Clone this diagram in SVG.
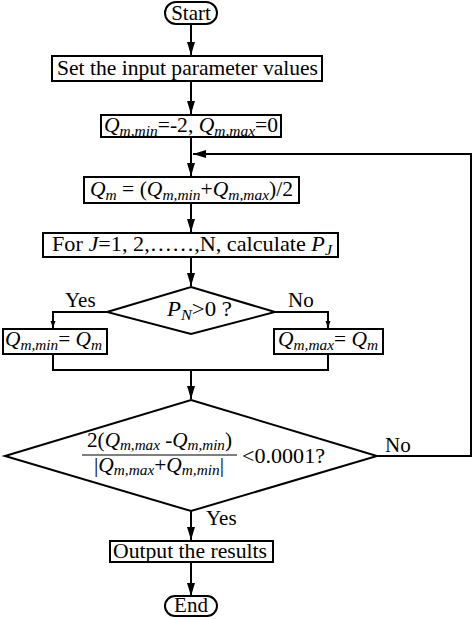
<svg xmlns="http://www.w3.org/2000/svg" width="474" height="619" viewBox="0 0 474 619">
<style>
.b{fill:#fff;stroke:#000;stroke-width:2}
.l{fill:none;stroke:#000;stroke-width:2}
text{font-family:"Liberation Serif","Times New Roman",serif;font-size:21px;fill:#000}
.i{font-style:italic}
.s{font-size:15px;font-style:italic}
.c{text-anchor:middle}
</style>
<defs>
<marker id="a" markerUnits="userSpaceOnUse" markerWidth="14" markerHeight="10" refX="13" refY="4" orient="auto">
<path d="M0,0 L13,4 L0,8 z" fill="#000"/>
</marker>
<marker id="sa" markerUnits="userSpaceOnUse" markerWidth="8" markerHeight="6" refX="7" refY="2.5" orient="auto">
<path d="M0,0 L7,2.5 L0,5 z" fill="#000"/>
</marker>
</defs>
<g id="connectors">
<line class="l" x1="191" y1="24" x2="191" y2="55" marker-end="url(#a)"/>
<line class="l" x1="191" y1="81" x2="191" y2="114" marker-end="url(#a)"/>
<line class="l" x1="191" y1="137" x2="191" y2="176" marker-end="url(#a)"/>
<polyline class="l" points="377,456 471,456 471,154 193,154" marker-end="url(#a)"/>
<line class="l" x1="191" y1="203" x2="191" y2="232" marker-end="url(#a)"/>
<line class="l" x1="191" y1="257" x2="191" y2="286" marker-end="url(#a)"/>
<polyline class="l" points="107,312 53,312 53,328" marker-end="url(#sa)"/>
<polyline class="l" points="275,312 328,312 328,328" marker-end="url(#sa)"/>
<polyline class="l" points="53,354 53,370 328,370 328,354"/>
<line class="l" x1="191" y1="370" x2="191" y2="399" marker-end="url(#a)"/>
<line class="l" x1="191" y1="511" x2="191" y2="540" marker-end="url(#a)"/>
<line class="l" x1="191" y1="562" x2="191" y2="596" marker-end="url(#a)"/>
<text x="65" y="307">Yes</text>
<text x="288" y="307">No</text>
<text x="385" y="452">No</text>
<text x="206" y="525">Yes</text>
</g>
<g id="start">
<rect class="b" x="165" y="2" width="52" height="22" rx="11"/>
<text class="c" x="191" y="20">Start</text>
</g>
<g id="set-input">
<rect class="b" x="52" y="56" width="270" height="25"/>
<text x="57" y="75" textLength="261" lengthAdjust="spacingAndGlyphs">Set the input parameter values</text>
</g>
<g id="init">
<rect class="b" x="101" y="115" width="180" height="22"/>
<text x="104" y="132" textLength="174" lengthAdjust="spacingAndGlyphs"><tspan class="i">Q</tspan><tspan class="s" dy="4">m,min</tspan><tspan dy="-4">=-2, </tspan><tspan class="i">Q</tspan><tspan class="s" dy="4">m,max</tspan><tspan dy="-4">=0</tspan></text>
</g>
<g id="midpoint">
<rect class="b" x="84" y="177" width="215" height="26"/>
<text x="90" y="196" textLength="203" lengthAdjust="spacingAndGlyphs"><tspan class="i">Q</tspan><tspan class="s" dy="4">m</tspan><tspan dy="-4"> = (</tspan><tspan class="i">Q</tspan><tspan class="s" dy="4">m,min</tspan><tspan dy="-4">+</tspan><tspan class="i">Q</tspan><tspan class="s" dy="4">m,max</tspan><tspan dy="-4">)/2</tspan></text>
</g>
<g id="calc">
<rect class="b" x="43" y="233" width="295" height="24"/>
<text x="52" y="251" textLength="280" lengthAdjust="spacingAndGlyphs">For <tspan class="i">J</tspan>=1, 2,……,N, calculate <tspan class="i">P</tspan><tspan class="s" dy="4">J</tspan></text>
</g>
<g id="decision-pn">
<polygon class="b" points="191,287 275,312 191,334 107,312"/>
<text x="167" y="316" textLength="65" lengthAdjust="spacingAndGlyphs"><tspan class="i">P</tspan><tspan class="s" dy="4">N</tspan><tspan dy="-4">&gt;0 ?</tspan></text>
</g>
<g id="set-min">
<rect class="b" x="3" y="329" width="104" height="25"/>
<text x="5" y="346" textLength="97" lengthAdjust="spacingAndGlyphs"><tspan class="i">Q</tspan><tspan class="s" dy="4">m,min</tspan><tspan dy="-4">= </tspan><tspan class="i">Q</tspan><tspan class="s" dy="4">m</tspan></text>
</g>
<g id="set-max">
<rect class="b" x="274" y="329" width="109" height="25"/>
<text x="278" y="346" textLength="100" lengthAdjust="spacingAndGlyphs"><tspan class="i">Q</tspan><tspan class="s" dy="4">m,max</tspan><tspan dy="-4">= </tspan><tspan class="i">Q</tspan><tspan class="s" dy="4">m</tspan></text>
</g>
<g id="decision-converge">
<polygon class="b" points="191,400 377,456 191,511 5,456"/>
<text x="87" y="447" textLength="145" lengthAdjust="spacingAndGlyphs">2(<tspan class="i">Q</tspan><tspan class="s" dy="3">m,max</tspan><tspan dy="-3"> -</tspan><tspan class="i">Q</tspan><tspan class="s" dy="3">m,min</tspan><tspan dy="-3">)</tspan></text>
<line x1="82" y1="455" x2="237" y2="455" stroke="#000" stroke-width="1.2"/>
<text x="94" y="472" textLength="130" lengthAdjust="spacingAndGlyphs">|<tspan class="i">Q</tspan><tspan class="s" dy="3">m,max</tspan><tspan dy="-3">+</tspan><tspan class="i">Q</tspan><tspan class="s" dy="3">m,min</tspan><tspan dy="-3">|</tspan></text>
<text x="242" y="463" textLength="83" lengthAdjust="spacingAndGlyphs">&lt;0.0001?</text>
</g>
<g id="output">
<rect class="b" x="110" y="541" width="163" height="21"/>
<text x="113" y="558" textLength="154" lengthAdjust="spacingAndGlyphs">Output the results</text>
</g>
<g id="end">
<rect class="b" x="165" y="596" width="52" height="20" rx="10"/>
<text class="c" x="191" y="612">End</text>
</g>
</svg>
